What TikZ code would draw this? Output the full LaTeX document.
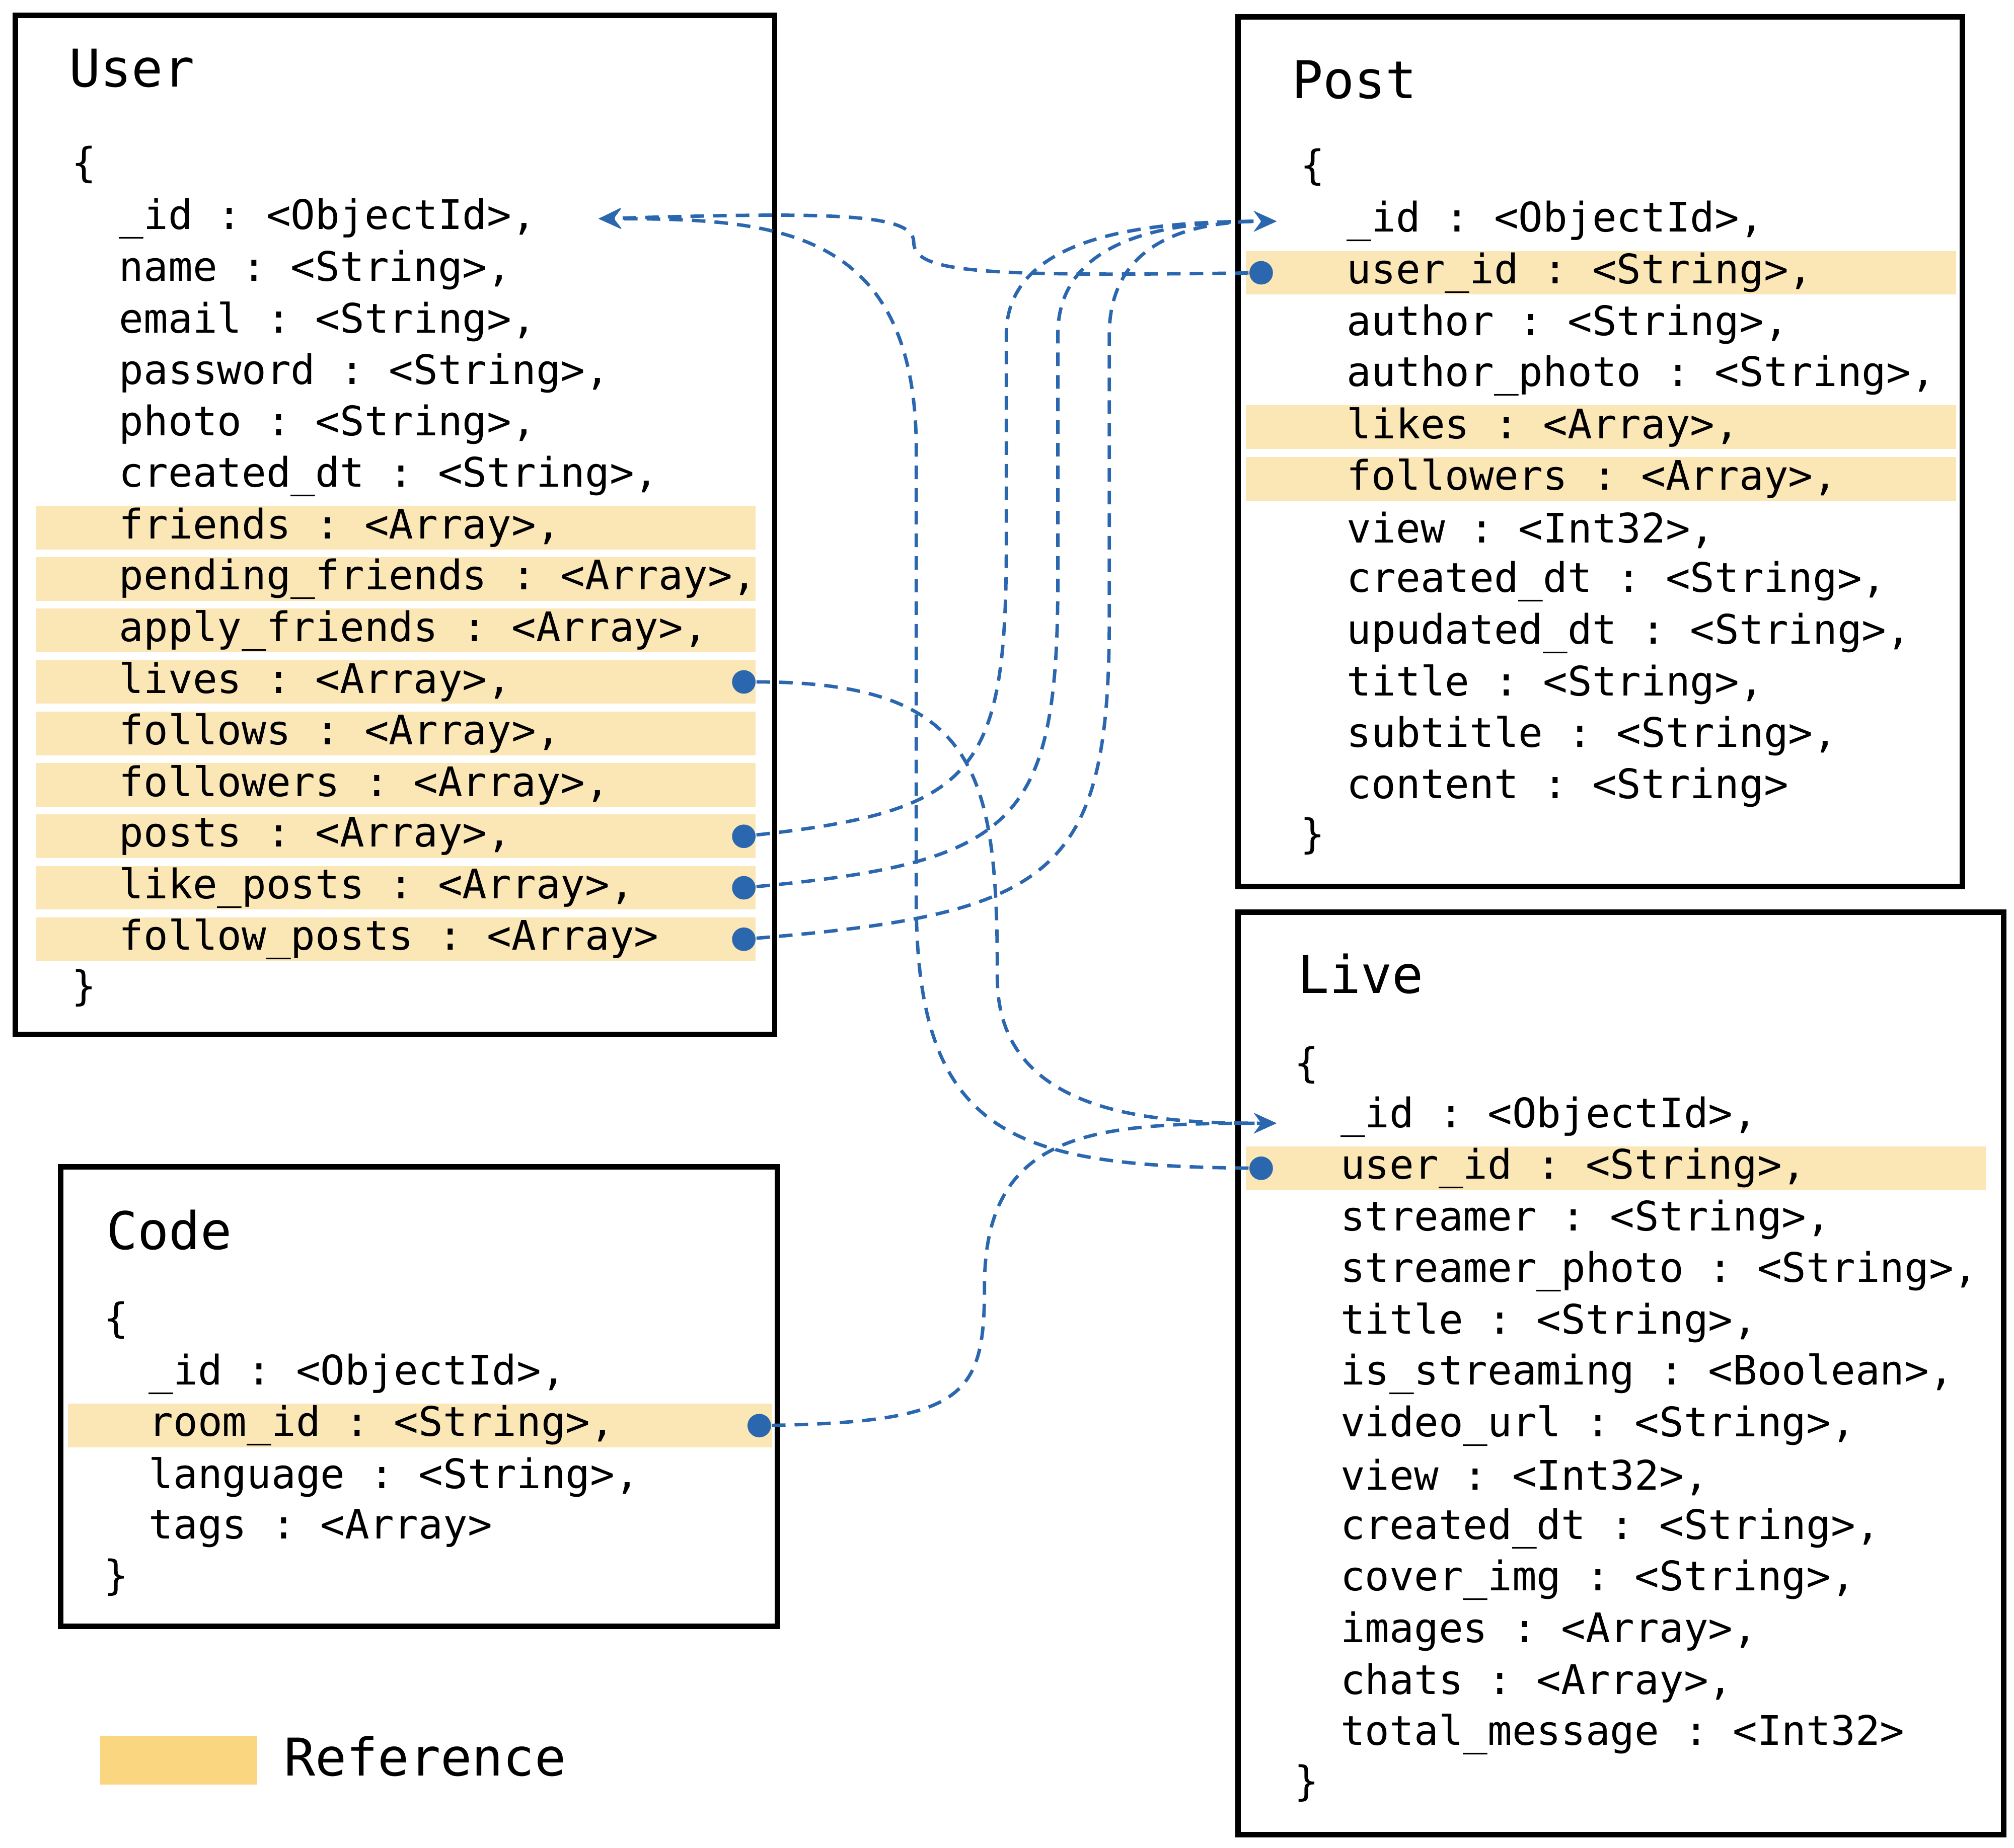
\documentclass[tikz,border=0pt]{standalone}
\usepackage{fontspec}
\setmonofont{DejaVu Sans Mono}
\usetikzlibrary{arrows.meta}
\definecolor{hlcol}{HTML}{FBE6B6}
\definecolor{keycol}{HTML}{FAD680}
\definecolor{linkcol}{HTML}{2B67AE}
\tikzset{
  field/.style={anchor=west, inner sep=0pt, font=\ttfamily\fontsize{9}{11}\selectfont},
  title/.style={anchor=west, inner sep=0pt, font=\ttfamily\fontsize{11.5}{13}\selectfont},
  box/.style={draw=black, line width=1.2pt},
  hl/.style={fill=hlcol},
  dot/.style={circle, fill=linkcol, inner sep=0pt, minimum size=5.2pt},
  link/.style={draw=linkcol, line width=0.75pt, dash pattern=on 3pt off 2pt},
  tip/.style={-{Stealth[length=5pt,width=4.5pt]}}
}
\begin{document}
\begin{tikzpicture}[x=0.01cm,y=-0.01cm]
    \useasboundingbox (0,0) rectangle (1565,1436);

    % Boxes
    \draw[box] (12,12) rectangle (602,804);
    \draw[box] (962,13) rectangle (1525,689);
    \draw[box] (962,709) rectangle (1557,1426);
    \draw[box] (47,907) rectangle (604,1264);

    % Highlighted rows
    \foreach \y in {410,450,...,730}
        \fill[hl] (28,\y-17) rectangle (587,\y+17);
    \foreach \y in {212,332,372}
        \fill[hl] (968,\y-17) rectangle (1520,\y+17);
    \fill[hl] (968,891) rectangle (1543,925);
    \fill[hl] (53,1091) rectangle (600,1125);

    % User
    \node[title] (user) at (53,53) {User};
    \node[field] at (55,128) {\{};
    \node[field] (u-id) at (92,170) {\_id : <ObjectId>,};
    \foreach \t [count=\i] in {{name : <String>,}, {email : <String>,}, {password : <String>,},
        {photo : <String>,}, {created\_dt : <String>,}, {friends : <Array>,},
        {pending\_friends : <Array>,}, {apply\_friends : <Array>,}, {lives : <Array>,},
        {follows : <Array>,}, {followers : <Array>,}, {posts : <Array>,},
        {like\_posts : <Array>,}, {follow\_posts : <Array>}}
        \node[field] at (92,170+40*\i) {\t};
    \node[field] at (55,768) {\}};

    % Post
    \node[title] (post) at (1003,62) {Post};
    \node[field] at (1010,130) {\{};
    \node[field] (p-id) at (1046,172) {\_id : <ObjectId>,};
    \foreach \t [count=\i] in {{user\_id : <String>,}, {author : <String>,},
        {author\_photo : <String>,}, {likes : <Array>,}, {followers : <Array>,},
        {view : <Int32>,}, {created\_dt : <String>,}, {upudated\_dt : <String>,},
        {title : <String>,}, {subtitle : <String>,}, {content : <String>}}
        \node[field] at (1046,172+40*\i) {\t};
    \node[field] at (1010,650) {\}};

    % Live
    \node[title] (live) at (1008,757) {Live};
    \node[field] at (1005,828) {\{};
    \node[field] (l-id) at (1041,868) {\_id : <ObjectId>,};
    \foreach \t [count=\i] in {{user\_id : <String>,}, {streamer : <String>,},
        {streamer\_photo : <String>,}, {title : <String>,}, {is\_streaming : <Boolean>,},
        {video\_url : <String>,}, {view : <Int32>,}, {created\_dt : <String>,},
        {cover\_img : <String>,}, {images : <Array>,}, {chats : <Array>,},
        {total\_message : <Int32>}}
        \node[field] at (1041,868+40*\i) {\t};
    \node[field] at (1005,1386) {\}};

    % Code
    \node[title] (code) at (82,956) {Code};
    \node[field] at (80,1026) {\{};
    \foreach \t [count=\i] in {{\_id : <ObjectId>,}, {room\_id : <String>,},
        {language : <String>,}, {tags : <Array>}}
        \node[field] at (115,1028+40*\i) {\t};
    \node[field] at (80,1226) {\}};

    % Legend
    \fill[keycol] (78,1349) rectangle (200,1387);
    \node[title] (ref) at (220,1365) {Reference};

    % Key dots and link ends
    \node[dot] (u-lives) at (578,530) {};
    \node[dot] (u-posts) at (578,650) {};
    \node[dot] (u-like) at (578,690) {};
    \node[dot] (u-follow) at (578,730) {};
    \node[dot] (p-user) at (980,212) {};
    \node[dot] (l-user) at (980,908) {};
    \node[dot] (c-room) at (590,1108) {};
    \coordinate (u-id-e) at (465,170);
    \coordinate (p-id-w) at (992,172);
    \coordinate (l-id-w) at (992,873);

    % Links
    \draw[link,tip] (p-user) .. controls (760,215) and (710,212) .. (710,188)
        .. controls (710,165) and (640,165) .. (u-id-e);
    \draw[link,tip] (l-user) .. controls (790,906) and (712,885) .. (712,700)
        -- (712,350) .. controls (712,175) and (600,170) .. (u-id-e);
    \draw[link,tip] (u-lives) .. controls (760,530) and (775,600) .. (775,760)
        .. controls (775,868) and (900,873) .. (l-id-w);
    \draw[link,tip] (c-room) .. controls (750,1105) and (765,1085) .. (765,1000)
        .. controls (765,878) and (850,873) .. (l-id-w);
    \draw[link,tip] (u-posts) .. controls (760,630) and (782,600) .. (782,420)
        -- (782,260) .. controls (782,180) and (900,172) .. (p-id-w);
    \draw[link,tip] (u-like) .. controls (790,670) and (822,640) .. (822,450)
        -- (822,260) .. controls (822,180) and (920,172) .. (p-id-w);
    \draw[link,tip] (u-follow) .. controls (820,710) and (862,680) .. (862,480)
        -- (862,260) .. controls (862,180) and (940,172) .. (p-id-w);

\end{tikzpicture}
\end{document}
